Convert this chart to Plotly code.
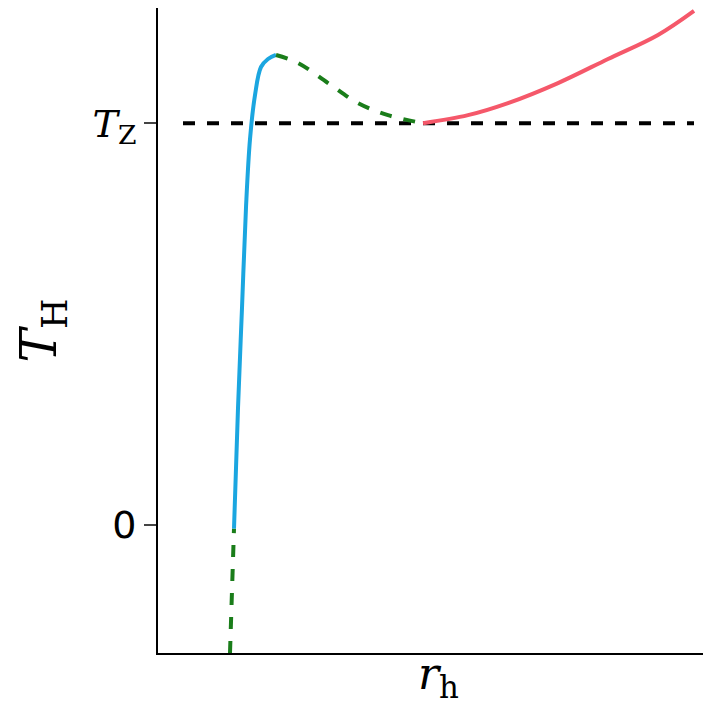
import plotly.graph_objects as go

# x in arbitrary units, y in units of T_Z (0 -> 0, 1 -> T_Z)
low_x = [0.72, 0.74, 0.76]
low_y = [-0.32, -0.16, -0.01]
blue_x = [0.76, 0.80, 0.84, 0.88, 0.92, 0.97, 1.03, 1.10, 1.18]
blue_y = [-0.01, 0.29, 0.54, 0.79, 0.96, 1.07, 1.14, 1.16, 1.17]
mid_x = [1.18, 1.40, 1.70, 2.00, 2.30, 2.65]
mid_y = [1.17, 1.15, 1.10, 1.05, 1.02, 1.00]
red_x = [2.65, 3.10, 3.50, 4.00, 4.50, 5.00, 5.36]
red_y = [1.00, 1.02, 1.05, 1.10, 1.16, 1.22, 1.28]
ref_x = [0.25, 5.36]
ref_y = [1.0, 1.0]

green = "#1a7d1a"
fig = go.Figure()
fig.add_trace(go.Scatter(x=ref_x, y=ref_y, mode="lines",
                         line=dict(color="black", width=4, dash="dash")))
fig.add_trace(go.Scatter(x=low_x, y=low_y, mode="lines",
                         line=dict(color=green, width=4, dash="dash")))
fig.add_trace(go.Scatter(x=blue_x, y=blue_y, mode="lines", line_shape="spline",
                         line=dict(color="#1ba6e0", width=4)))
fig.add_trace(go.Scatter(x=mid_x, y=mid_y, mode="lines", line_shape="spline",
                         line=dict(color=green, width=4, dash="dash")))
fig.add_trace(go.Scatter(x=red_x, y=red_y, mode="lines", line_shape="spline",
                         line=dict(color="#f5586a", width=4)))

fig.update_layout(
    width=711, height=709, showlegend=False,
    plot_bgcolor="white", paper_bgcolor="white",
    margin=dict(l=150, r=0, t=0, b=64, autoexpand=False),
    font=dict(family="DejaVu Sans", size=38, color="black"),
)
fig.update_xaxes(range=[0, 5.61], showgrid=False, zeroline=False, showticklabels=False,
                 showline=True, linecolor="black", linewidth=2, automargin=False,
                 title=dict(text="<i>r</i><sub>h</sub>", standoff=4,
                            font=dict(family="DejaVu Serif", size=44)))
fig.update_yaxes(range=[-0.32, 1.287], showgrid=False, zeroline=False,
                 showline=True, linecolor="black", linewidth=2, automargin=False,
                 ticks="outside", ticklen=12, tickwidth=2,
                 tickvals=[0, 1],
                 ticktext=["0", "<span style='font-family:DejaVu Serif'><i>T</i><sub>Z</sub></span>"],
                 title=dict(text="<i>T</i><sub>H</sub>", standoff=20,
                            font=dict(family="DejaVu Serif", size=50)))
fig.write_html("out.html")
